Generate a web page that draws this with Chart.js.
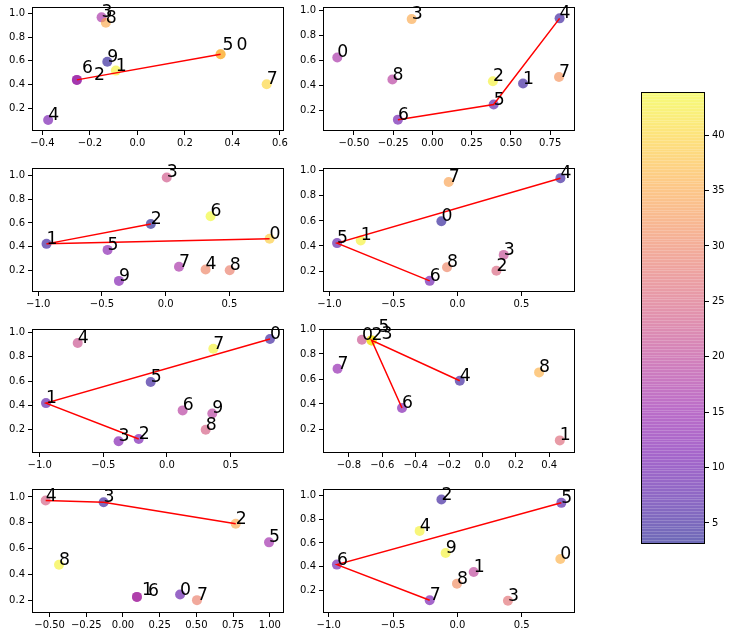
<!DOCTYPE html>
<html>
<head>
<meta charset="utf-8">
<script src="https://cdn.jsdelivr.net/npm/chart.js@4.4.1/dist/chart.umd.min.js"></script>
<style>
html, body { margin: 0; padding: 0; background: #fff; }
body { width: 731px; height: 636px; position: relative; overflow: hidden; }
canvas { position: absolute; }
</style>
</head>
<body>
<script>
Chart.defaults.font.family = "DejaVu Sans";
Chart.defaults.font.size = 10;
Chart.defaults.color = "#000";

// one list per panel, panels read left to right, top to bottom
const pointX = [
    [0.350, -0.091, -0.255, -0.151, -0.376, 0.350, -0.255, 0.544, -0.133, -0.127],
    [-0.606, 0.577, 0.385, -0.132, 0.810, 0.390, -0.220, 0.806, -0.255],
    [0.815, -0.935, -0.117, 0.008, 0.313, -0.456, 0.352, 0.104, 0.502, -0.367],
    [-0.125, -0.755, 0.305, 0.362, 0.805, -0.940, -0.216, -0.068, -0.081],
    [0.809, -0.950, -0.222, -0.380, -0.701, -0.128, 0.123, 0.364, 0.304, 0.356],
    [-0.722, 0.463, -0.664, -0.664, -0.136, -0.664, -0.482, -0.868, 0.339],
    [0.389, 0.095, 0.768, -0.132, -0.527, 0.995, 0.095, 0.504, -0.436],
    [0.800, 0.127, -0.124, 0.393, -0.293, 0.808, -0.936, -0.215, -0.003, -0.091]
];
const pointY = [
    [0.655, 0.518, 0.440, 0.966, 0.103, 0.655, 0.440, 0.403, 0.921, 0.593],
    [0.626, 0.417, 0.436, 0.933, 0.939, 0.249, 0.128, 0.470, 0.449],
    [0.466, 0.423, 0.592, 0.986, 0.206, 0.372, 0.657, 0.229, 0.200, 0.109],
    [0.597, 0.444, 0.202, 0.329, 0.941, 0.423, 0.122, 0.911, 0.230],
    [0.946, 0.419, 0.124, 0.105, 0.913, 0.592, 0.359, 0.866, 0.200, 0.334],
    [0.914, 0.109, 0.909, 0.909, 0.586, 0.909, 0.368, 0.682, 0.653],
    [0.248, 0.230, 0.794, 0.959, 0.972, 0.650, 0.230, 0.205, 0.477],
    [0.465, 0.354, 0.967, 0.111, 0.702, 0.939, 0.417, 0.116, 0.256, 0.515]
];
const pointC = [
    [36, 43, 18, 17, 11, 37, 15, 40, 35, 4],
    [17, 5, 43, 35, 5, 8, 10, 32, 19],
    [39, 5, 3.1, 23, 30, 13, 43.9, 17, 29, 12],
    [4, 43, 25, 21, 5, 8, 10, 34, 30],
    [5, 8, 11, 12, 22, 5, 19, 43, 24, 19],
    [22, 26, 40, 43, 5, 42, 12, 14, 36],
    [9, 16, 35, 5, 24, 16, 18, 29, 43],
    [36, 20, 5, 27, 43, 7, 10, 11, 31, 43]
];
const linePath = [
    [6, 5],
    [6, 5, 4],
    [2, 1, 0],
    [4, 5, 6],
    [0, 1, 2],
    [4, 5, 6],
    [4, 3, 2],
    [5, 6, 7]
];
const xTickVals = [
    [-0.4, -0.2, 0, 0.2, 0.4, 0.6],
    [-0.5, -0.25, 0, 0.25, 0.5, 0.75],
    [-1, -0.5, 0, 0.5],
    [-1, -0.5, 0, 0.5],
    [-1, -0.5, 0, 0.5],
    [-0.8, -0.6, -0.4, -0.2, 0, 0.2, 0.4],
    [-0.5, -0.25, 0, 0.25, 0.5, 0.75, 1],
    [-1, -0.5, 0, 0.5]
];
const xTickText = [
    ["−0.4", "−0.2", "0.0", "0.2", "0.4", "0.6"],
    ["−0.50", "−0.25", "0.00", "0.25", "0.50", "0.75"],
    ["−1.0", "−0.5", "0.0", "0.5"],
    ["−1.0", "−0.5", "0.0", "0.5"],
    ["−1.0", "−0.5", "0.0", "0.5"],
    ["−0.8", "−0.6", "−0.4", "−0.2", "0.0", "0.2", "0.4"],
    ["−0.50", "−0.25", "0.00", "0.25", "0.50", "0.75", "1.00"],
    ["−1.0", "−0.5", "0.0", "0.5"]
];
const yTickVals = [0.2, 0.4, 0.6, 0.8, 1.0];
const yTickText = ["0.2", "0.4", "0.6", "0.8", "1.0"];
const cbTickVals = [5, 10, 15, 20, 25, 30, 35, 40];
const cbTickText = ["5", "10", "15", "20", "25", "30", "35", "40"];

// axis ranges and layout
const xLimits = [[-0.444, 0.617], [-0.697, 0.908], [-1.049, 0.928], [-1.05, 0.919],
                 [-1.06, 0.919], [-0.955, 0.554], [-0.62, 1.097], [-1.044, 0.914]];
const yLimits = [[0.01, 1.053], [0.037, 1.03], [0.015, 1.066], [0.033, 1.022],
                 [0.009, 1.028], [0.008, 1.0], [0.106, 1.061], [0.008, 1.056]];
const colLeft = [32, 323];
const rowTop = [7, 168, 329, 489];
const axW = 252, axH = 124;
const labelShift = [
    {0: [16, -4], 2: [17, 0], 5: [2, -4], 6: [5, -7]},
    {}, {}, {}, {},
    {3: [10, -1], 5: [7, -8]},
    {1: [5, -2], 6: [11, -1]},
    {}
];

const plasmaStops = ["#0d0887", "#41049d", "#6a00a8", "#8f0da4", "#b12a90", "#cc4778",
                     "#e16462", "#f2844b", "#fca636", "#fcce25", "#f0f921"];
const alpha = 0.6;

function hexRgb(h){
    return [parseInt(h.slice(1, 3), 16), parseInt(h.slice(3, 5), 16), parseInt(h.slice(5, 7), 16)];
}
function plasma(t, a){
    t = Math.min(1, Math.max(0, t)) * 10;
    const i = Math.min(9, Math.floor(t));
    const f = t - i;
    const c0 = hexRgb(plasmaStops[i]), c1 = hexRgb(plasmaStops[i + 1]);
    const c = c0.map((v, k) => Math.round(v + (c1[k] - v) * f));
    return "rgba(" + c[0] + "," + c[1] + "," + c[2] + "," + a + ")";
}

const allC = pointC.flat();
const cMin = Math.min(...allC);
const cMax = Math.max(...allC);

const frame = {
    id: "frame",
    afterDraw(chart){
        const a = chart.chartArea, ctx = chart.ctx;
        ctx.save();
        ctx.strokeStyle = "#000";
        ctx.lineWidth = 1;
        ctx.strokeRect(Math.round(a.left) + 0.5, Math.round(a.top) + 0.5,
                       Math.round(a.right - a.left) - 1, Math.round(a.bottom - a.top) - 1);
        ctx.restore();
    }
};

function pointLabels(p){
    return {
        id: "pointLabels",
        afterDatasetsDraw(chart){
            const ctx = chart.ctx, xs = chart.scales.x, ys = chart.scales.y;
            ctx.save();
            ctx.font = "17.28px 'DejaVu Sans'";
            ctx.fillStyle = "#000";
            ctx.textAlign = "left";
            ctx.textBaseline = "alphabetic";
            pointX[p].forEach((x, i) => {
                const d = labelShift[p][i] || [0, 0];
                ctx.fillText(String(i), xs.getPixelForValue(x) + d[0], ys.getPixelForValue(pointY[p][i]) + d[1]);
            });
            ctx.restore();
        }
    };
}

for(let p = 0; p < 8; p++){
    const col = p % 2, row = Math.floor(p / 2);
    const cv = document.createElement("canvas");
    cv.width = 32 + axW + 10;
    cv.height = 12 + axH + 24;
    cv.style.left = (colLeft[col] - 32) + "px";
    cv.style.top = (rowTop[row] - 12) + "px";
    document.body.appendChild(cv);

    const pts = pointX[p].map((x, i) => ({x: x, y: pointY[p][i]}));

    new Chart(cv, {
        type: "scatter",
        data: {
            datasets: [
                {
                    type: "line",
                    data: linePath[p].map(i => pts[i]),
                    borderColor: "#ff0000",
                    borderWidth: 1.5,
                    pointRadius: 0,
                    showLine: true,
                    fill: false,
                    tension: 0,
                    order: 0
                },
                {
                    data: pts,
                    pointBackgroundColor: pointC[p].map(c => plasma((c - cMin) / (cMax - cMin), alpha)),
                    pointBorderWidth: 0,
                    pointRadius: 5,
                    pointHoverRadius: 5,
                    order: 1
                }
            ]
        },
        options: {
            responsive: false,
            animation: false,
            events: [],
            layout: {padding: {top: 12, right: 10, left: 0, bottom: 0}},
            plugins: {
                legend: {display: false},
                tooltip: {enabled: false}
            },
            scales: {
                x: {
                    type: "linear",
                    bounds: "data",
                    min: xLimits[p][0],
                    max: xLimits[p][1],
                    afterBuildTicks: s => { s.ticks = xTickVals[p].map(v => ({value: v})); },
                    afterFit: s => { s.height = 24; s.paddingLeft = 0; s.paddingRight = 0; },
                    ticks: {
                        callback: (v, i) => xTickText[p][i],
                        padding: 2,
                        maxRotation: 0,
                        autoSkip: false,
                        color: "#000"
                    },
                    grid: {drawOnChartArea: false, tickLength: 4, color: "#000"},
                    border: {display: false}
                },
                y: {
                    type: "linear",
                    bounds: "data",
                    min: yLimits[p][0],
                    max: yLimits[p][1],
                    afterBuildTicks: s => { s.ticks = yTickVals.map(v => ({value: v})); },
                    afterFit: s => { s.width = 32; s.paddingTop = 0; s.paddingBottom = 0; },
                    ticks: {
                        callback: (v, i) => yTickText[i],
                        padding: 3,
                        autoSkip: false,
                        color: "#000"
                    },
                    grid: {drawOnChartArea: false, tickLength: 4, color: "#000"},
                    border: {display: false}
                }
            }
        },
        plugins: [pointLabels(p), frame]
    });
}

// colour bar
const streaks = {
    id: "streaks",
    afterDatasetsDraw(chart){
        const a = chart.chartArea, ctx = chart.ctx;
        ctx.save();
        ctx.fillStyle = "rgba(255,255,255,0.18)";
        for(let y = a.top + 1.5; y < a.bottom; y += 2.9){
            ctx.fillRect(a.left, Math.round(y), a.right - a.left, 1);
        }
        ctx.restore();
    }
};

const cb = document.createElement("canvas");
cb.width = 94;
cb.height = 472;
cb.style.left = "641px";
cb.style.top = "82px";
document.body.appendChild(cb);

new Chart(cb, {
    type: "bar",
    data: {
        labels: [""],
        datasets: [{
            data: [[cMin, cMax]],
            backgroundColor: c => {
                const a = c.chart.chartArea;
                if(!a) return "#888";
                const g = c.chart.ctx.createLinearGradient(0, a.bottom, 0, a.top);
                for(let k = 0; k <= 20; k++){
                    g.addColorStop(k / 20, plasma(k / 20, alpha));
                }
                return g;
            },
            borderWidth: 0,
            barPercentage: 1,
            categoryPercentage: 1,
            inflateAmount: 0
        }]
    },
    options: {
        responsive: false,
        animation: false,
        events: [],
        layout: {padding: {top: 10, bottom: 10, left: 0, right: 0}},
        plugins: {
            legend: {display: false},
            tooltip: {enabled: false}
        },
        scales: {
            x: {display: false},
            y: {
                position: "right",
                bounds: "data",
                min: cMin,
                max: cMax,
                afterBuildTicks: s => { s.ticks = cbTickVals.map(v => ({value: v})); },
                afterFit: s => { s.width = 30; s.paddingTop = 0; s.paddingBottom = 0; },
                ticks: {
                    callback: (v, i) => cbTickText[i],
                    padding: 3,
                    autoSkip: false,
                    color: "#000"
                },
                grid: {drawOnChartArea: false, tickLength: 4, color: "#000"},
                border: {display: false}
            }
        }
    },
    plugins: [streaks, frame]
});
</script>
</body>
</html>
